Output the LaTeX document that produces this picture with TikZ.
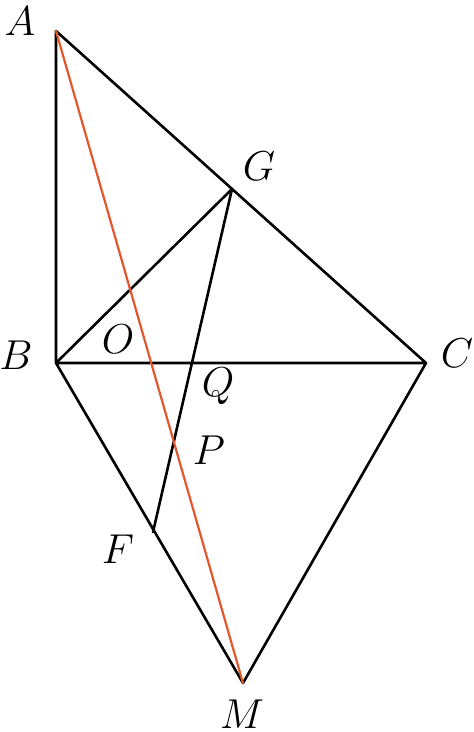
\documentclass[tikz,border=0pt]{standalone}
\usepackage{graphicx}
\definecolor{redline}{RGB}{228,86,44}
\newcommand{\ptlab}[1]{\scalebox{1.68}{$#1$}}
\tikzset{
  seg/.style={line width=2.6pt, black, line join=round, line cap=round},
  redseg/.style={line width=2.2pt, redline, line cap=round},
  lbl/.style={inner sep=0pt, font=\fontsize{24.88}{30}\selectfont}
}
\begin{document}
\begin{tikzpicture}[x=1pt,y=-1pt]
\useasboundingbox (0,0) rectangle (474,732);
\coordinate (A) at (56,31);
\coordinate (B) at (56,363);
\coordinate (C) at (426,363);
\coordinate (G) at (232,189);
\coordinate (F) at (153,532);
\coordinate (M) at (243,683);
\draw[seg] (B) -- (A) -- (C) -- (M) -- (B) -- (C);
\draw[seg] (B) -- (G) -- (F);
\draw[redseg] (A) -- (M);
\node[lbl] (lA) at (20,21) {\ptlab{A}};
\node[lbl] (lB) at (16,355) {\ptlab{B}};
\node[lbl] (lC) at (457,353) {\ptlab{C}};
\node[lbl] (lG) at (259,166) {\ptlab{G}};
\node[lbl] (lO) at (118,339) {\ptlab{O}};
\node[lbl] (lQ) at (218,386) {\ptlab{Q}};
\node[lbl] (lP) at (209,450) {\ptlab{P}};
\node[lbl] (lF) at (118,549) {\ptlab{F}};
\node[lbl] (lM) at (242,714) {\ptlab{M}};
\end{tikzpicture}
\end{document}
